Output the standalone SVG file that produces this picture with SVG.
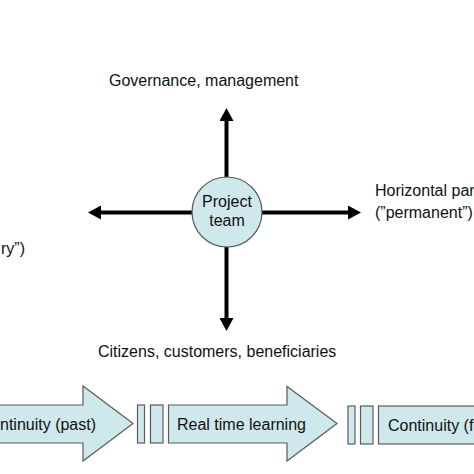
<svg xmlns="http://www.w3.org/2000/svg" width="474" height="474" viewBox="0 0 474 474">
<defs>
<marker id="ah" viewBox="0 0 13 14" refX="1" refY="7" markerWidth="13" markerHeight="14" markerUnits="userSpaceOnUse" orient="auto">
<path d="M0,0 L13,7 L0,14 z" fill="#000"/>
</marker>
</defs>
<style>
text{font-family:"Liberation Sans",Arial,sans-serif;font-size:16px;fill:#111}
.shape{fill:#cfe8eb;stroke:#555c5c;stroke-width:1.2}
.conn{stroke:#000;stroke-width:4;fill:none;marker-end:url(#ah)}
</style>
<rect width="474" height="474" fill="#fff"/>
<g id="connectors">
<line class="conn" x1="226.5" y1="178" x2="226.5" y2="120"/>
<line class="conn" x1="226.5" y1="246" x2="226.5" y2="319"/>
<line class="conn" x1="193" y1="212.5" x2="100" y2="212.5"/>
<line class="conn" x1="261" y1="212.5" x2="349" y2="212.5"/>
</g>
<g id="project-team">
<circle class="shape" cx="227" cy="212" r="35"/>
<text x="227" y="207" text-anchor="middle">Project</text>
<text x="227" y="226" text-anchor="middle">team</text>
</g>
<g id="governance">
<text x="109" y="86">Governance, management</text>
</g>
<g id="citizens">
<text x="98" y="357">Citizens, customers, beneficiaries</text>
</g>
<g id="horizontal">
<text x="375" y="196">Horizontal par</text>
<text x="375" y="218">(”permanent”)</text>
</g>
<g id="left-partners">
<text x="1" y="254">ry”)</text>
</g>
<g id="continuity-past">
<path class="shape" d="M-5,405 H83 V386 L133,423.5 L83,461 V443 H-5 z"/>
<text x="0" y="430">ntinuity (past)</text>
</g>
<g id="sep1">
<rect class="shape" x="137.5" y="405" width="7" height="38"/>
<rect class="shape" x="150.5" y="405" width="12.5" height="38"/>
</g>
<g id="real-time">
<path class="shape" d="M168.5,405 H287 V386.5 L337,423.5 L287,461 V443 H168.5 z"/>
<text x="177" y="430">Real time learning</text>
</g>
<g id="sep2">
<rect class="shape" x="348" y="406" width="7" height="38"/>
<rect class="shape" x="360.5" y="406" width="12.5" height="38"/>
</g>
<g id="continuity-future">
<rect class="shape" x="378.5" y="406" width="100" height="38"/>
<text x="388" y="431">Continuity (f</text>
</g>
</svg>
